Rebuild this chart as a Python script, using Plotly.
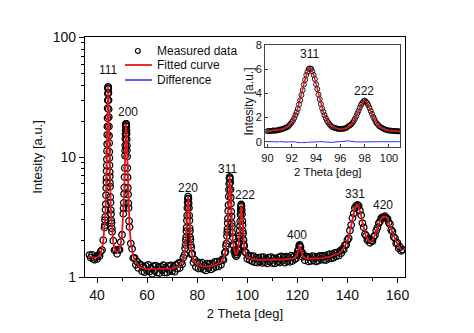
import numpy as np
import plotly.graph_objects as go

# ---------------- main pattern (2 Theta in deg, intensity in a.u.) ----------------
tt_a = [37.0, 37.5, 38.0, 38.5, 39.0, 39.5, 40.0, 40.5, 41.0, 41.5, 42.0, 42.5]
fit_a = [1.48, 1.48, 1.47, 1.46, 1.45, 1.45, 1.46, 1.48, 1.52, 1.60, 1.73, 1.99]
dev_a = [3, -2, 4, -3, -4, 2, -3, 3, -2, 2, -3, 2]

tt_b = [43.0, 43.1, 43.2, 43.3, 43.4, 43.5, 43.6, 43.7, 43.75, 43.8, 43.85, 43.9, 43.95,
        44.0, 44.05, 44.1, 44.15, 44.2, 44.25, 44.3, 44.35, 44.4, 44.45, 44.5, 44.55, 44.6,
        44.65, 44.7, 44.75, 44.8, 44.85, 44.9, 44.95, 45.0, 45.05, 45.1, 45.15, 45.2, 45.3,
        45.4, 45.5, 45.6, 45.7, 45.8, 45.9]
fit_b = [2.54, 2.73, 2.96, 3.24, 3.61, 4.09, 4.72, 5.58, 6.13, 6.79, 7.59, 8.55, 9.73,
         11.18, 13.0, 15.24, 18.02, 21.42, 25.43, 29.86, 34.18, 37.45, 38.69, 37.45, 34.2, 29.9,
         25.45, 21.45, 18.05, 15.27, 13.03, 11.22, 9.77, 8.58, 7.62, 6.83, 6.17, 5.62, 4.76,
         4.14, 3.66, 3.29, 3.02, 2.79, 2.60]
dev_b = [2, -1, 1, -2, 1, -1, 2, -1, 1, -1, 1, 0, -1,
         1, -1, 1, 0, -1, 1, 0, -1, 1, 0, -1, 1, 0,
         -1, 1, 0, -1, 1, -1, 1, 0, -1, 1, -1, 1, -2,
         1, -1, 2, -2, 1, -2]

tt_c = [46.0, 46.5, 47.0, 47.5, 48.0, 48.5, 49.0, 49.5, 50.0, 50.5]
fit_c = [2.44, 1.95, 1.74, 1.64, 1.61, 1.63, 1.72, 1.90, 2.30, 3.34]
dev_c = [-2, 3, -4, 3, -3, 4, -2, 3, -2, 1]

tt_d = [50.6, 50.7, 50.8, 50.9, 51.0, 51.1, 51.2, 51.25, 51.3, 51.35, 51.4, 51.45, 51.5,
        51.55, 51.6, 51.65, 51.7, 51.75, 51.8, 51.85, 51.9, 51.95, 52.0, 52.1, 52.2, 52.3,
        52.4, 52.5, 52.6, 52.8, 53.0, 53.5, 54.0, 54.5, 55.0, 55.5, 56.0, 56.5, 57.0]
fit_d = [3.72, 4.20, 4.83, 5.65, 6.76, 8.23, 10.2, 11.39, 12.70, 14.12, 15.57, 16.94, 18.09,
         18.87, 19.15, 18.83, 18.05, 16.90, 15.53, 14.08, 12.66, 11.35, 10.16, 8.20, 6.73, 5.62,
         4.80, 4.17, 3.69, 3.00, 2.56, 1.96, 1.67, 1.50, 1.39, 1.33, 1.28, 1.24, 1.21]
dev_d = [1, -1, 2, -1, 1, -1, 1, 0, -1, 1, 0, -1, 1,
         0, -1, 1, 0, -1, 1, 0, -1, 1, 0, -1, 1, -1,
         2, -1, 2, -2, 2, -3, 3, -4, 4, -5, 5, -4, 6]

tt_e = [57.5, 58.0, 58.5, 59.0, 59.5, 60.0, 60.5, 61.0, 61.5, 62.0, 62.5, 63.0, 63.5, 64.0,
        64.5, 65.0, 65.5, 66.0, 66.5, 67.0, 67.5, 68.0, 68.5, 69.0, 69.5, 70.0, 70.5, 71.0,
        71.5, 72.0, 72.5, 73.0, 73.5, 74.0, 74.5]
fit_e = [1.20, 1.19, 1.18, 1.18, 1.17, 1.17, 1.17, 1.17, 1.16, 1.16, 1.16, 1.16, 1.16, 1.16,
         1.16, 1.16, 1.16, 1.16, 1.16, 1.16, 1.16, 1.17, 1.17, 1.17, 1.17, 1.18, 1.19, 1.19,
         1.20, 1.21, 1.23, 1.25, 1.28, 1.33, 1.41]
dev_e = [5, -6, 3, -7, 6, -4, 8, -5, 2, -8, 6, -3, 7, -6,
         4, -7, 5, -2, 8, -6, 3, -7, 6, -4, 7, -5, 2, -7,
         5, -3, 6, -5, 4, -4, 3]

tt_f = [75.0, 75.2, 75.4, 75.5, 75.6, 75.7, 75.8, 75.9, 76.0, 76.1, 76.2, 76.3, 76.4, 76.5,
        76.6, 76.7, 76.8, 76.9, 77.0, 77.1, 77.2, 77.3, 77.4, 77.6, 77.8, 78.0, 78.5, 79.0,
        79.5, 80.0]
fit_f = [1.58, 1.70, 1.89, 2.01, 2.17, 2.37, 2.61, 2.93, 3.30, 3.74, 4.17, 4.52, 4.65, 4.52,
         4.17, 3.74, 3.30, 2.93, 2.61, 2.37, 2.17, 2.01, 1.89, 1.71, 1.59, 1.51, 1.39, 1.33,
         1.29, 1.27]
dev_f = [-3, 2, -2, 1, -1, 2, -1, 1, -1, 1, 0, -1, 1, 0,
         -1, 1, -1, 1, -2, 2, -1, 2, -2, 3, -3, 4, -5, 5,
         -6, 5]

tt_g = [80.5, 81.0, 81.5, 82.0, 82.5, 83.0, 83.5, 84.0, 84.5, 85.0, 85.5, 86.0, 86.5, 87.0,
        87.5, 88.0, 88.5, 89.0, 89.5, 90.0, 90.5, 91.0, 91.3, 91.5, 91.7, 91.9]
fit_g = [1.25, 1.24, 1.23, 1.23, 1.22, 1.22, 1.22, 1.22, 1.22, 1.23, 1.23, 1.24, 1.25, 1.26,
         1.27, 1.28, 1.29, 1.30, 1.32, 1.36, 1.43, 1.54, 1.66, 1.78, 1.94, 2.18]
dev_g = [-6, 5, -4, 7, -5, 3, -7, 6, -3, 5, -6, 4, -5, 6,
         -4, 5, -5, 4, -4, 3, -3, 3, -2, 2, -2, 1]

tt_h = [92.0, 92.1, 92.2, 92.3, 92.4, 92.5, 92.6, 92.7, 92.8, 92.9, 93.0, 93.1, 93.2, 93.3,
        93.4, 93.5, 93.6, 93.7, 93.8, 93.9, 94.0,
        94.2, 94.4, 94.6, 94.8, 95.0, 95.2, 95.4, 95.6, 95.8, 96.0, 96.2, 96.4, 96.6,
        96.7, 96.8, 96.9, 97.0, 97.1, 97.2, 97.3, 97.4, 97.5, 97.6, 97.7, 97.8, 97.9, 98.0,
        98.1, 98.2, 98.3, 98.4, 98.5, 98.6,
        98.8, 99.0, 99.5, 100.0, 100.5, 101.0]
fit_h = [2.34, 2.54, 2.79, 3.11, 3.52, 4.03, 4.65, 5.36, 6.07, 6.63, 6.85, 6.64, 6.08, 5.37,
         4.67, 4.06, 3.56, 3.16, 2.84, 2.59, 2.39,
         2.11, 1.92, 1.77, 1.68, 1.62, 1.58, 1.56, 1.55, 1.56, 1.59, 1.64, 1.73, 1.87,
         1.96, 2.08, 2.23, 2.42, 2.66, 2.95, 3.29, 3.63, 3.89, 3.99, 3.92, 3.66, 3.31, 2.98,
         2.69, 2.45, 2.26, 2.11, 1.99, 1.90,
         1.76, 1.67, 1.54, 1.48, 1.45, 1.43]
dev_h = [1, -1, 1, -1, 1, -1, 1, 0, -1, 1, 0, -1, 1, 0,
         -1, 1, -1, 1, -1, 2, -2,
         2, -3, 3, -3, 4, -3, 4, -4, 3, -3, 3, -2, 2,
         -1, 1, -1, 1, 0, -1, 1, 0, -1, 1, 0, -1, 1, -1,
         1, -1, 2, -2, 2, -2,
         3, -3, 4, -4, 4, -3]

tt_i = [101.5, 102.0, 102.5, 103.0, 103.5, 104.0, 104.5, 105.0, 105.5, 106.0, 106.5, 107.0,
        107.5, 108.0, 108.5, 109.0, 109.5, 110.0, 110.5, 111.0, 111.5, 112.0, 112.5, 113.0,
        113.5, 114.0, 114.5, 115.0, 115.5, 116.0, 116.5, 117.0, 117.5, 118.0, 118.5, 119.0]
fit_i = [1.42, 1.41, 1.41, 1.40, 1.40, 1.40, 1.39, 1.39, 1.39, 1.38, 1.38, 1.38,
         1.38, 1.38, 1.38, 1.38, 1.38, 1.38, 1.38, 1.38, 1.38, 1.39, 1.39, 1.39,
         1.40, 1.40, 1.40, 1.40, 1.41, 1.41, 1.41, 1.41, 1.42, 1.42, 1.43, 1.45]
dev_i = [5, -4, 6, -5, 3, -6, 4, -3, 5, -5, 6, -4,
         3, -6, 5, -3, 6, -5, 4, -6, 3, -4, 5, -5,
         6, -3, 4, -6, 5, -4, 3, -5, 6, -4, 3, -3]

tt_j = [119.5, 119.75, 120.0, 120.25, 120.5, 120.75, 120.9, 121.0, 121.25, 121.5, 121.75,
        122.0, 122.5, 123.0, 123.5]
fit_j = [1.48, 1.51, 1.56, 1.63, 1.72, 1.80, 1.82, 1.81, 1.74, 1.64, 1.57,
         1.52, 1.47, 1.44, 1.43]
dev_j = [-3, 3, -2, 2, -2, 1, 2, -1, 2, -2, 3, -3, 4, -4, 3]

tt_k = [124.0, 124.5, 125.0, 125.5, 126.0, 126.5, 127.0, 127.5,
        128.0, 128.5, 129.0, 129.5, 130.0, 130.5, 131.0, 131.5,
        132.0, 132.5, 133.0, 133.5, 134.0, 134.5, 135.0, 135.5,
        136.0, 136.5, 137.0, 137.5, 138.0, 138.5, 139.0, 139.5,
        140.0, 140.5, 141.0, 141.5, 142.0, 142.5, 143.0, 143.5,
        144.0, 144.5, 145.0, 145.5, 146.0, 146.5, 147.0, 147.5,
        148.0, 148.5, 149.0, 149.5, 150.0, 150.5, 151.0, 151.5,
        152.0, 152.5, 153.0, 153.5, 154.0, 154.5, 155.0, 155.5,
        156.0, 156.5, 157.0, 157.5, 158.0, 158.5, 159.0, 159.5,
        160.0, 160.5, 161.0, 161.5, 162.0]
fit_k = [1.42, 1.42, 1.42, 1.42, 1.42, 1.42, 1.42, 1.42,
         1.43, 1.43, 1.43, 1.44, 1.44, 1.45, 1.45, 1.46,
         1.47, 1.47, 1.48, 1.49, 1.50, 1.51, 1.53, 1.54,
         1.55, 1.57, 1.60, 1.63, 1.68, 1.74, 1.81, 1.89,
         2.00, 2.15, 2.42, 2.74, 3.08, 3.42, 3.74, 3.95,
         4.00, 3.88, 3.62, 3.24, 2.85, 2.55, 2.32, 2.17,
         2.07, 2.00, 1.97, 1.98, 2.03, 2.12, 2.25, 2.42,
         2.60, 2.78, 2.93, 3.06, 3.15, 3.20, 3.19, 3.14,
         3.03, 2.88, 2.70, 2.52, 2.35, 2.20, 2.07, 1.96,
         1.87, 1.79, 1.73, 1.69, 1.66]
dev_k = [4, -5, 3, -4, 5, -3, 4, -5, 3, -4,
         5, -3, 4, -4, 3, -5, 4, -3, 5, -4,
         3, -4, 4, -3, 3, -4, 3, -3, 2, -3,
         2, -2, 2, -2, 1, -1, 1, -1, 1, -1,
         0, 1, -1, 1, -1, 2, -2, 2, -2, 3,
         -2, 2, -2, 2, -1, 1, -1, 1, -1, 1,
         0, -1, 1, -1, 1, -1, 2, -2, 2, -2,
         2, -3, 3, -3, 3, -2, 2]

segments = [(tt_a, fit_a, dev_a), (tt_b, fit_b, dev_b), (tt_c, fit_c, dev_c),
            (tt_d, fit_d, dev_d), (tt_e, fit_e, dev_e), (tt_f, fit_f, dev_f),
            (tt_g, fit_g, dev_g), (tt_h, fit_h, dev_h), (tt_i, fit_i, dev_i),
            (tt_j, fit_j, dev_j), (tt_k, fit_k, dev_k)]

two_theta, fitted, measured = [], [], []
for xs, fs, ds in segments:
    n = min(len(xs), len(fs))
    ds = list(ds) + [0] * max(0, n - len(ds))
    for i in range(n):
        two_theta.append(xs[i])
        fitted.append(fs[i])
        measured.append(round(fs[i] * (1 + ds[i] / 100.0), 3))

# ---------------- inset (90-101 deg) ----------------
inset_tt = [round(90.0 + 0.1 * i, 1) for i in range(111)]
inset_fit = [0.87, 0.88, 0.89, 0.90, 0.91, 0.92, 0.92, 0.94, 0.95, 0.97,
             0.99, 1.02, 1.04, 1.08, 1.11, 1.15, 1.21, 1.28, 1.37, 1.48,
             1.62, 1.78, 1.97, 2.20, 2.47, 2.78, 3.12, 3.51, 3.92, 4.35,
             4.77, 5.18, 5.55, 5.85, 6.04, 6.11, 6.04, 5.85, 5.55, 5.18,
             4.77, 4.34, 3.91, 3.50, 3.12, 2.78, 2.47, 2.20, 1.97, 1.78,
             1.62, 1.49, 1.38, 1.29, 1.23, 1.17, 1.14, 1.11, 1.07, 1.06,
             1.05, 1.05, 1.05, 1.06, 1.09, 1.12, 1.17, 1.23, 1.32, 1.42,
             1.55, 1.71, 1.89, 2.11, 2.34, 2.58, 2.82, 3.05, 3.23, 3.36,
             3.40, 3.35, 3.22, 3.02, 2.79, 2.55, 2.30, 2.06, 1.86, 1.66,
             1.52, 1.40, 1.30, 1.22, 1.16, 1.10, 1.05, 1.01, 0.98, 0.95,
             0.93, 0.92, 0.90, 0.89, 0.88, 0.88, 0.87, 0.87, 0.86, 0.86,
             0.86]
inset_diff = [0.01, 0.02, 0.0, -0.01, 0.01, 0.02, 0.0, -0.02, 0.01, 0.0,
              0.02, 0.01, -0.01, 0.0, 0.02, 0.01, -0.01, -0.02, 0.0, 0.01,
              -0.01, -0.03, -0.02, 0.0, -0.04, -0.06, -0.03, -0.07, -0.05, -0.08,
              -0.04, -0.07, -0.03, -0.06, -0.02, -0.05, -0.01, -0.04, -0.03, 0.0,
              -0.02, 0.01, -0.01, 0.02, 0.0, -0.02, 0.01, 0.0, -0.01, -0.03,
              -0.02, -0.04, -0.03, -0.05, -0.03, -0.02, 0.0, -0.01, 0.01, 0.0,
              0.02, 0.01, 0.03, 0.02, 0.04, 0.03, 0.06, 0.08, 0.05, 0.03,
              0.02, 0.0, 0.01, -0.01, 0.0, -0.02, -0.01, 0.0, -0.02, -0.01,
              0.0, -0.02, -0.01, 0.01, 0.0, -0.01, 0.01, 0.0, 0.02, 0.01,
              0.0, 0.01, -0.01, 0.0, 0.01, 0.02, 0.0, 0.01, -0.01, 0.0,
              0.01, 0.0, 0.02, 0.01, 0.0, 0.01, 0.02, 0.0, 0.01, 0.0,
              0.01]
n_in = min(len(inset_tt), len(inset_fit), len(inset_diff))
inset_tt, inset_fit, inset_diff = inset_tt[:n_in], inset_fit[:n_in], inset_diff[:n_in]
inset_meas = [round(f + d, 3) for f, d in zip(inset_fit, inset_diff)]

# peak labels
main_peaks = ["111", "200", "220", "311", "222", "400", "331", "420"]
main_peak_x = [44.4, 52.4, 76.3, 92.3, 99.1, 119.9, 143.0, 154.2]
main_peak_y = [54, 23.9, 5.5, 8.05, 4.82, 2.24, 4.98, 3.98]
inset_peaks = ["311", "222"]
inset_peak_x = [93.5, 97.95]
inset_peak_y = [7.26, 4.22]

legend_labels = ["Measured data", "Fitted curve", "Difference"]

FONT = "Liberation Sans, Arial, sans-serif"
RED = "#e8141a"
BLUE = "#2b2bf0"

fig = go.Figure()
fig.add_trace(go.Scatter(x=two_theta, y=measured, mode="markers", name=legend_labels[0],
                         showlegend=False,
                         marker=dict(symbol="circle-open", size=6.5, color="black",
                                     line=dict(width=1.3))))
fig.add_trace(go.Scatter(x=two_theta, y=fitted, mode="lines", name=legend_labels[1],
                         showlegend=False, line=dict(color=RED, width=1.8)))
fig.add_trace(go.Scatter(x=inset_tt, y=inset_meas, mode="markers", showlegend=False,
                         xaxis="x2", yaxis="y2", name="Measured data (inset)",
                         marker=dict(symbol="circle-open", size=5, color="black",
                                     line=dict(width=0.9))))
fig.add_trace(go.Scatter(x=inset_tt, y=inset_fit, mode="lines", showlegend=False,
                         xaxis="x2", yaxis="y2", name="Fitted curve (inset)",
                         line=dict(color=RED, width=1.5)))
fig.add_trace(go.Scatter(x=inset_tt, y=inset_diff, mode="lines", name=legend_labels[2],
                         showlegend=False, xaxis="x2", yaxis="y2",
                         line=dict(color=BLUE, width=1)))

annotations = []
for t, x, y in zip(main_peaks, main_peak_x, main_peak_y):
    annotations.append(dict(text=t, x=x, y=np.log10(y), xref="x", yref="y",
                            showarrow=False, font=dict(size=12, color="#111")))
for t, x, y in zip(inset_peaks, inset_peak_x, inset_peak_y):
    annotations.append(dict(text=t, x=x, y=y, xref="x2", yref="y2",
                            showarrow=False, font=dict(size=12, color="#111")))

# compact legend drawn in the upper-left corner of the main plot
leg_rows_y = [0.9417, 0.8833, 0.8208]
for t, yy in zip(legend_labels, leg_rows_y):
    annotations.append(dict(text=t, x=0.219, y=yy, xref="paper", yref="paper",
                            xanchor="left", yanchor="middle", showarrow=False,
                            font=dict(size=12, color="#111")))
shapes = [
    dict(type="circle", xref="paper", yref="paper", x0=0.1575, x1=0.1725,
         y0=0.9320, y1=0.9520, line=dict(color="black", width=1.2)),
    dict(type="line", xref="paper", yref="paper", x0=0.125, x1=0.209,
         y0=leg_rows_y[1], y1=leg_rows_y[1], line=dict(color=RED, width=1.8)),
    dict(type="line", xref="paper", yref="paper", x0=0.125, x1=0.209,
         y0=leg_rows_y[2], y1=leg_rows_y[2], line=dict(color=BLUE, width=1.5)),
]

# inset axis titles
annotations.append(dict(text="2 Theta [deg]", x=0.759, y=0.4375, xref="paper", yref="paper",
                        xanchor="center", yanchor="middle", showarrow=False,
                        font=dict(size=11.5, color="#111")))
annotations.append(dict(text="Intesity [a.u.]", x=0.5125, y=0.731, xref="paper",
                        yref="paper", xanchor="center", yanchor="middle", textangle=-90,
                        showarrow=False, font=dict(size=12, color="#111")))

fig.update_layout(
    width=474, height=333,
    margin=dict(l=85, r=69, t=37, b=56),
    paper_bgcolor="white", plot_bgcolor="white",
    font=dict(family=FONT, color="#111"),
    showlegend=False,
    annotations=annotations,
    shapes=shapes,
    xaxis=dict(domain=[0, 1], range=[35.2, 163.0], showline=True, linecolor="black",
               linewidth=1.2, mirror=True, ticks="outside", ticklen=5, tickwidth=1.2,
               tickcolor="black", tickvals=[40, 60, 80, 100, 120, 140, 160],
               minor=dict(tickmode="array", tickvals=[50, 70, 90, 110, 130, 150],
                          ticks="outside", ticklen=3, tickwidth=1, tickcolor="black"),
               showgrid=False, zeroline=False, tickfont=dict(size=14),
               title=dict(text="2 Theta [deg]", font=dict(size=13), standoff=6)),
    yaxis=dict(type="log", range=[0, 2.004], showline=True, linecolor="black",
               linewidth=1.2, mirror=True, ticks="outside", ticklen=5, tickwidth=1.2,
               tickcolor="black", tickvals=[1, 10, 100], ticktext=["1", "10", "100"],
               minor=dict(tickmode="array",
                          tickvals=[2, 3, 4, 5, 6, 7, 8, 9, 20, 30, 40, 50, 60, 70, 80, 90],
                          ticks="outside", ticklen=3, tickwidth=1, tickcolor="black"),
               showgrid=False, zeroline=False, tickfont=dict(size=14),
               title=dict(text="Intesity [a.u.]", font=dict(size=13), standoff=7)),
    xaxis2=dict(domain=[0.5625, 0.984], anchor="y2", range=[89.8, 100.9],
                showline=True, linecolor="#444", linewidth=1, mirror=True,
                ticks="inside", ticklen=3, tickcolor="#444",
                tickvals=[90, 92, 94, 96, 98, 100], showgrid=False, zeroline=False,
                tickfont=dict(size=11)),
    yaxis2=dict(domain=[0.54, 0.967], anchor="x2", range=[-0.46, 8.0],
                showline=True, linecolor="#444", linewidth=1, mirror=True,
                ticks="inside", ticklen=3, tickcolor="#444",
                tickvals=[0, 2, 4, 6, 8], showgrid=False, zeroline=False,
                tickfont=dict(size=11)),
)

fig.write_html("out.html")
